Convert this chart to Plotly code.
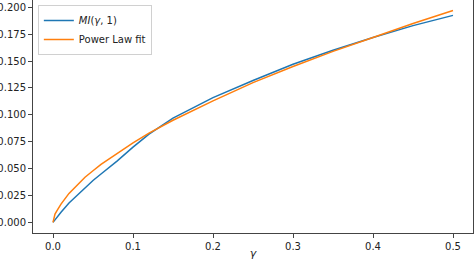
import plotly.graph_objects as go

gamma = [0, 0.001, 0.0025, 0.005, 0.01, 0.02, 0.03, 0.04, 0.05, 0.06, 0.08, 0.10,
         0.12, 0.15, 0.20, 0.25, 0.30, 0.35, 0.40, 0.45, 0.50]
mi_values = [0, 0.001, 0.0025, 0.005, 0.0095, 0.018, 0.025, 0.032, 0.039, 0.045, 0.057, 0.070,
             0.082, 0.097, 0.116, 0.132, 0.147, 0.160, 0.172, 0.183, 0.1925]
fit_values = [0, 0.0046, 0.0078, 0.011, 0.017, 0.027, 0.035, 0.042, 0.048, 0.054, 0.064, 0.074,
              0.083, 0.095, 0.113, 0.130, 0.145, 0.159, 0.172, 0.185, 0.197]

x_ticks = [0.0, 0.1, 0.2, 0.3, 0.4, 0.5]
y_ticks = [0.000, 0.025, 0.050, 0.075, 0.100, 0.125, 0.150, 0.175, 0.200]

fig = go.Figure()
fig.add_trace(go.Scatter(x=gamma, y=mi_values, mode="lines",
                         line=dict(color="#1f77b4", width=1.5),
                         name="<i>MI</i>(<i>γ</i>, 1)"))
fig.add_trace(go.Scatter(x=gamma, y=fit_values, mode="lines",
                         line=dict(color="#ff7f0e", width=1.5),
                         name="Power Law fit"))

font = dict(family="DejaVu Sans", size=10, color="#222")
fig.update_layout(
    width=474, height=260,
    margin=dict(l=33, r=1, t=0, b=27),
    paper_bgcolor="white", plot_bgcolor="white",
    font=font,
    showlegend=True,
    legend=dict(x=0.011, y=0.979, xanchor="left", yanchor="top",
                bgcolor="rgba(255,255,255,0.8)", bordercolor="#d0d0d0", borderwidth=1,
                font=dict(family="DejaVu Sans", size=10, color="#222"),
                tracegroupgap=0, itemwidth=30),
    xaxis=dict(range=[-0.025, 0.525], tickvals=x_ticks, tickformat=".1f",
               automargin=False,
               showgrid=False, zeroline=False, showline=True, linecolor="#444",
               linewidth=1, ticks="outside", ticklen=4, tickcolor="#444", mirror=False,
               title=dict(text="<i>γ</i>", standoff=3, font=dict(size=11))),
    yaxis=dict(range=[-0.00985, 0.2068], tickvals=y_ticks, tickformat=".3f",
               automargin=False,
               showgrid=False, zeroline=False, showline=True, linecolor="#444",
               linewidth=1, ticks="outside", ticklen=4, tickcolor="#444", mirror=True),
)
fig.write_html("out.html")
